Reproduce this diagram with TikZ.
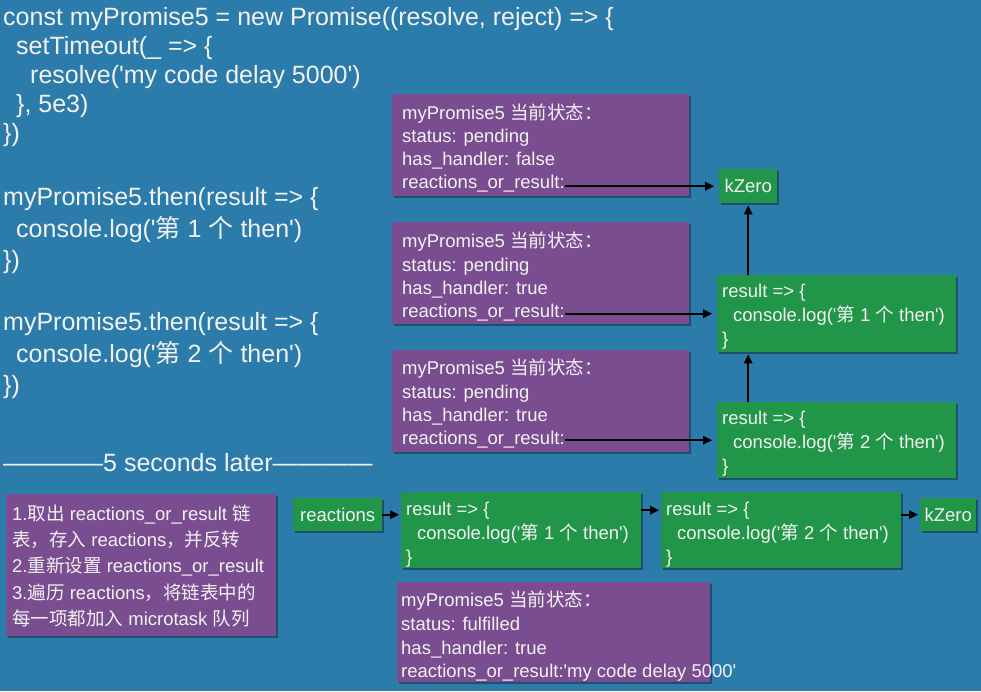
\documentclass[tikz,border=0pt]{standalone}
\usepackage{fontspec}
\setmainfont{Liberation Sans}[Ligatures=TeXOff]
\newfontfamily\cjkfont{Noto Sans CJK SC}
\newcommand{\myzh}[1]{{\cjkfont #1}}
\usetikzlibrary{arrows.meta,shadows}
\definecolor{bgblue}{RGB}{43,124,170}
\definecolor{pp}{RGB}{122,77,144}
\definecolor{gg}{RGB}{33,150,73}
\definecolor{fg}{RGB}{242,242,242}
\tikzset{
  boxshadow/.style={drop shadow={shadow xshift=1.5pt,shadow yshift=-1.5pt,opacity=0.35,fill=black}},
  pbox/.style={fill=pp,draw=none,anchor=north west,inner sep=0pt,boxshadow},
  gbox/.style={fill=gg,draw=none,anchor=north west,inner sep=0pt,boxshadow},
  lbl/.style={gbox,text=fg,font=\fontsize{18.5}{22}\selectfont,align=center},
  txt/.style={anchor=base west,inner sep=0pt,text=fg,font=\fontsize{18.5}{22}\selectfont},
  codetxt/.style={anchor=base west,inner sep=0pt,text=fg,font=\fontsize{25}{30}\selectfont},
  arr/.style={draw=black,line width=1.8pt,-{Triangle[length=9pt,width=8.5pt]}}
}
\begin{document}
\begin{tikzpicture}[x=1pt,y=-1pt]
\fill[bgblue] (0,0) rectangle (981,691);
\useasboundingbox (0,0) rectangle (981,691);

% code
\node[codetxt] (c1) at (3,25) {const myPromise5 = new Promise((resolve, reject) => \{};
\node[codetxt] (c2) at (16,54) {setTimeout(\_ => \{};
\node[codetxt] (c3) at (30,83) {resolve('my code delay 5000')};
\node[codetxt] (c4) at (16,112) {\}, 5e3)};
\node[codetxt] (c5) at (3,141) {\})};
\node[codetxt] (c6) at (3,205) {myPromise5.then(result => \{};
\node[codetxt] (c7) at (16,237) {console.log('\myzh{第} 1 \myzh{个} then')};
\node[codetxt] (c8) at (3,268) {\})};
\node[codetxt] (c9) at (3,330) {myPromise5.then(result => \{};
\node[codetxt] (c10) at (16,362) {console.log('\myzh{第} 2 \myzh{个} then')};
\node[codetxt] (c11) at (3,393) {\})};
\node[codetxt] (sep) at (3,471) {————5 seconds later————};

% state boxes
\node[pbox,minimum width=297pt,minimum height=102pt] (s1) at (392,94) {};
\node[txt] (s1a) at (402,119) {myPromise5 \myzh{当前状态：}};
\node[txt] (s1b) at (402,142) {status: pending};
\node[txt] (s1c) at (402,165) {has\_handler: false};
\node[txt] (s1d) at (402,188) {reactions\_or\_result:};

\node[pbox,minimum width=297pt,minimum height=102pt] (s2) at (392,222) {};
\node[txt] (s2a) at (402,247) {myPromise5 \myzh{当前状态：}};
\node[txt] (s2b) at (402,271) {status: pending};
\node[txt] (s2c) at (402,294) {has\_handler: true};
\node[txt] (s2d) at (402,317) {reactions\_or\_result:};

\node[pbox,minimum width=297pt,minimum height=102pt] (s3) at (392,350) {};
\node[txt] (s3a) at (402,374) {myPromise5 \myzh{当前状态：}};
\node[txt] (s3b) at (402,398) {status: pending};
\node[txt] (s3c) at (402,421) {has\_handler: true};
\node[txt] (s3d) at (402,444) {reactions\_or\_result:};

% right chain
\node[lbl,minimum width=58pt,minimum height=34pt] (kz1) at (719,169) {kZero};
\node[gbox,minimum width=239pt,minimum height=77pt] (g1) at (717,275) {};
\node[txt] (g1a) at (722,297) {result => \{};
\node[txt] (g1b) at (733,321) {console.log('\myzh{第} 1 \myzh{个} then')};
\node[txt] (g1c) at (722,345) {\}};
\node[gbox,minimum width=239pt,minimum height=76pt] (g2) at (717,402) {};
\node[txt] (g2a) at (722,424) {result => \{};
\node[txt] (g2b) at (733,448) {console.log('\myzh{第} 2 \myzh{个} then')};
\node[txt] (g2c) at (722,472) {\}};

\draw[arr,shorten >=5pt] (s1d.east |- kz1.west) -- (kz1.west);
\draw[arr,shorten >=5pt] (s2d.east |- g1.west) -- (g1.west);
\draw[arr,shorten >=5pt] (s3d.east |- g2.west) -- (g2.west);
\draw[arr,shorten >=2pt] (g1.north -| kz1.south) -- (kz1.south);
\draw[arr,shorten >=2pt] (g2.north -| kz1.south) -- (g1.south -| kz1.south);

% bottom
\node[pbox,minimum width=270pt,minimum height=142pt] (note) at (6,494) {};
\node[txt] (n1) at (12,520) {1.\myzh{取出} reactions\_or\_result \myzh{链}};
\node[txt] (n2) at (12,546) {\myzh{表，存入} reactions\myzh{，并反转}};
\node[txt] (n3) at (12,572) {2.\myzh{重新设置} reactions\_or\_result};
\node[txt] (n4) at (12,599) {3.\myzh{遍历} reactions\myzh{，将链表中的}};
\node[txt] (n5) at (12,625) {\myzh{每一项都加入} microtask \myzh{队列}};

\node[lbl,minimum width=89pt,minimum height=33pt] (rx) at (293,498) {reactions};
\node[gbox,minimum width=240pt,minimum height=76pt] (b1) at (401,492) {};
\node[txt] (b1a) at (406,515) {result => \{};
\node[txt] (b1b) at (417,539) {console.log('\myzh{第} 1 \myzh{个} then')};
\node[txt] (b1c) at (406,563) {\}};
\node[gbox,minimum width=240pt,minimum height=76pt] (b2) at (661,492) {};
\node[txt] (b2a) at (666,515) {result => \{};
\node[txt] (b2b) at (677,539) {console.log('\myzh{第} 2 \myzh{个} then')};
\node[txt] (b2c) at (666,563) {\}};
\node[lbl,minimum width=56pt,minimum height=33pt] (kz2) at (920,498) {kZero};

\draw[arr,shorten >=2pt] (rx.east) -- (rx.east -| b1.west);
\draw[arr,shorten >=2pt] (b1.east |- b1a.east) -- (b1a.east -| b2.west);
\draw[arr,shorten >=2pt] (b2.east |- kz2.west) -- (kz2.west);

\node[pbox,minimum width=313pt,minimum height=100pt] (s4) at (397,582) {};
\node[txt] (s4a) at (401,606) {myPromise5 \myzh{当前状态：}};
\node[txt] (s4b) at (401,630) {status: fulfilled};
\node[txt] (s4c) at (401,654) {has\_handler: true};
\node[txt] (s4d) at (401,677) {reactions\_or\_result:'my code delay 5000'};
\end{tikzpicture}
\end{document}
